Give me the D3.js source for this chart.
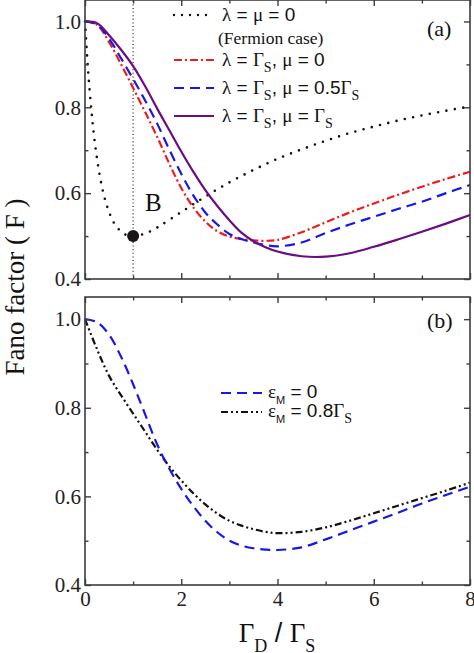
<!DOCTYPE html>
<html>
<head>
<meta charset="utf-8">
<script src="https://d3js.org/d3.v7.min.js"></script>
<style>
  body { margin: 0; background: #fff; }
  .tick text { font-family: "Liberation Serif", serif; font-size: 21px; fill: #222; }
  .tick line { stroke: #3d3d3d; stroke-width: 1.4; }
</style>
</head>
<body>
<svg width="474" height="653"></svg>
<script>
// panel (a): Fano factor vs GammaD/GammaS
const xA = [0, 0.25, 0.5, 0.75, 1, 1.25, 1.5, 1.75, 2, 2.25, 2.5, 2.75, 3, 3.25, 3.5, 3.75, 4, 4.5, 5, 5.5, 6, 6.5, 7, 7.5, 8];
const redA    = [1.0, 0.992, 0.952, 0.900, 0.845, 0.789, 0.731, 0.669, 0.612, 0.567, 0.534, 0.511, 0.499, 0.493, 0.490, 0.489, 0.491, 0.509, 0.532, 0.555, 0.576, 0.596, 0.615, 0.633, 0.650];
const blueA   = [1.0, 0.993, 0.960, 0.914, 0.866, 0.816, 0.762, 0.702, 0.645, 0.595, 0.555, 0.527, 0.505, 0.493, 0.485, 0.479, 0.476, 0.485, 0.507, 0.527, 0.545, 0.563, 0.580, 0.600, 0.619];
const purpleA = [1.0, 0.996, 0.968, 0.934, 0.896, 0.849, 0.797, 0.747, 0.697, 0.650, 0.607, 0.570, 0.537, 0.508, 0.488, 0.474, 0.464, 0.453, 0.452, 0.460, 0.475, 0.492, 0.510, 0.529, 0.549];

const xFermion = [0, 0.05, 0.1, 0.15, 0.2, 0.3, 0.4, 0.5, 0.6, 0.7, 0.8, 0.9, 1, 1.25, 1.5, 2, 2.5, 3, 3.5, 4, 4.5, 5, 5.5, 6, 6.5, 7, 7.5, 8];
const fermion  = [1.0, 0.909, 0.835, 0.773, 0.722, 0.645, 0.592, 0.556, 0.531, 0.516, 0.506, 0.501, 0.5, 0.506, 0.52, 0.556, 0.592, 0.625, 0.654, 0.68, 0.702, 0.722, 0.740, 0.755, 0.769, 0.781, 0.792, 0.802];

// panel (b)
const xB = [0, 0.25, 0.5, 0.75, 1, 1.25, 1.5, 1.75, 2, 2.25, 2.5, 2.75, 3, 3.25, 3.5, 3.75, 4, 4.5, 5, 5.5, 6, 6.5, 7, 7.5, 8];
const blueB  = [1.0, 0.993, 0.965, 0.915, 0.853, 0.785, 0.717, 0.663, 0.617, 0.578, 0.545, 0.519, 0.500, 0.489, 0.483, 0.480, 0.479, 0.485, 0.503, 0.523, 0.543, 0.563, 0.584, 0.603, 0.622];
const blackB = [1.0, 0.932, 0.872, 0.828, 0.787, 0.746, 0.705, 0.668, 0.636, 0.607, 0.582, 0.561, 0.545, 0.534, 0.526, 0.520, 0.517, 0.520, 0.530, 0.545, 0.562, 0.579, 0.596, 0.613, 0.631];

const pointB = [1, 0.5];
const xTicks = [0, 2, 4, 6, 8], xMinor = [1, 3, 5, 7];
const yTicks = [0.4, 0.6, 0.8, 1.0], yMinor = [0.5, 0.7, 0.9];

var svg = d3.select("svg");
var x = d3.scaleLinear().domain([0, 8]).range([85, 470]);
var ya = d3.scaleLinear().domain([0.4, 1.05]).range([279, 0]);
var yb = d3.scaleLinear().domain([0.4, 1.05]).range([585, 297]);

var SERIF = "'Liberation Serif', serif", SANS = "'Liberation Sans', sans-serif";

function axes(y, xLabels) {
  var g = svg.append("g");
  var top = y.range()[1], bot = y.range()[0];
  var fmt = d3.format(".1f");
  // left
  g.append("g").attr("transform", "translate(" + x(0) + ",0)")
    .call(d3.axisLeft(y).tickValues(yTicks).tickSize(-6).tickPadding(4).tickFormat(fmt));
  g.append("g").attr("transform", "translate(" + x(0) + ",0)")
    .call(d3.axisLeft(y).tickValues(yMinor).tickSize(-3.5).tickFormat(""));
  // right
  g.append("g").attr("transform", "translate(" + x(8) + ",0)")
    .call(d3.axisRight(y).tickValues(yTicks).tickSize(-6).tickFormat(""));
  g.append("g").attr("transform", "translate(" + x(8) + ",0)")
    .call(d3.axisRight(y).tickValues(yMinor).tickSize(-3.5).tickFormat(""));
  // bottom
  g.append("g").attr("transform", "translate(0," + bot + ")")
    .call(d3.axisBottom(x).tickValues(xTicks).tickSize(-6).tickPadding(6).tickFormat(xLabels ? d3.format("d") : ""));
  g.append("g").attr("transform", "translate(0," + bot + ")")
    .call(d3.axisBottom(x).tickValues(xMinor).tickSize(-3.5).tickFormat(""));
  // top
  g.append("g").attr("transform", "translate(0," + top + ")")
    .call(d3.axisTop(x).tickValues(xTicks).tickSize(-6).tickFormat(""));
  g.append("g").attr("transform", "translate(0," + top + ")")
    .call(d3.axisTop(x).tickValues(xMinor).tickSize(-3.5).tickFormat(""));
  g.selectAll(".domain").remove();
  g.append("rect")
    .attr("x", x(0)).attr("y", top)
    .attr("width", x(8) - x(0)).attr("height", bot - top)
    .attr("fill", "none").attr("stroke", "#3d3d3d").attr("stroke-width", 1.6);
}

function curve(xs, ys, y, color, dash, w) {
  var line = d3.line()
    .x(function (d) { return x(d[0]); })
    .y(function (d) { return y(d[1]); })
    .curve(d3.curveCatmullRom.alpha(0.5));
  return svg.append("path")
    .datum(xs.map(function (v, i) { return [v, ys[i]]; }))
    .attr("d", line)
    .attr("fill", "none")
    .attr("stroke", color)
    .attr("stroke-width", w || 2.2)
    .attr("stroke-dasharray", dash);
}

// text with mixed fonts: [text, kind]  kind: s sans, r serif, sub serif subscript, msub sans subscript
function label(xp, yp, parts, size) {
  var t = svg.append("text").attr("x", xp).attr("y", yp).attr("fill", "#111")
    .attr("font-size", size || 19);
  var shift = 0;
  parts.forEach(function (p) {
    var ts = t.append("tspan").text(p[0]);
    var isSub = p[1] == "sub" || p[1] == "msub";
    var want = isSub ? 6 : 0;
    if (want != shift) ts.attr("dy", want - shift);
    shift = want;
    ts.attr("font-family", (p[1] == "s" || p[1] == "msub") ? SANS : SERIF);
    if (isSub) ts.attr("font-size", p[1] == "msub" ? 11 : 14);
  });
  return t;
}

// ---- panel (a)
curve([pointB[0], pointB[0]], [0.4, 1.05], ya, "#222", "1,2.6", 1.2);
curve(xFermion, fermion, ya, "#111", "0,8.5", 2.6).attr("stroke-linecap", "round");
curve(xA, redA, ya, "#f01c1c", "8,3,2,3");
curve(xA, blueA, ya, "#1818e6", "10,6");
curve(xA, purpleA, ya, "#6a0d83", null, 2.2);
svg.append("circle").attr("cx", x(pointB[0])).attr("cy", ya(pointB[1])).attr("r", 6).attr("fill", "#1a1414");
svg.append("text").attr("x", 145).attr("y", 211).attr("font-family", SERIF)
  .attr("font-size", 25).attr("fill", "#111").text("B");
axes(ya, false);

// legend (a)
var legA = [
  { y: 15, color: "#111", dash: "0,8", w: 2.4, cap: "round" },
  { y: 60, color: "#f01c1c", dash: "8,3,2,3", w: 2.2 },
  { y: 88, color: "#1818e6", dash: "10,6", w: 2.2 },
  { y: 116, color: "#6a0d83", dash: null, w: 2.2 }
];
legA.forEach(function (d) {
  svg.append("line").attr("x1", 174).attr("x2", 214).attr("y1", d.y).attr("y2", d.y)
    .attr("stroke", d.color).attr("stroke-width", d.w).attr("stroke-dasharray", d.dash)
    .attr("stroke-linecap", d.cap || "butt");
});
label(222, 21, [["λ", "r"], [" = ", "s"], ["μ", "r"], [" = 0", "s"]]);
label(218, 44, [["(Fermion case)", "r"]], 17.5);
label(222, 66, [["λ", "r"], [" = ", "s"], ["Γ", "r"], ["S", "sub"], [", ", "s"], ["μ", "r"], [" = 0", "s"]]);
label(222, 94, [["λ", "r"], [" = ", "s"], ["Γ", "r"], ["S", "sub"], [", ", "s"], ["μ", "r"], [" = 0.5", "s"], ["Γ", "r"], ["S", "sub"]]);
label(222, 122, [["λ", "r"], [" = ", "s"], ["Γ", "r"], ["S", "sub"], [", ", "s"], ["μ", "r"], [" = ", "s"], ["Γ", "r"], ["S", "sub"]]);
svg.append("text").attr("x", 427).attr("y", 36).attr("font-family", SERIF)
  .attr("font-size", 22).attr("fill", "#111").text("(a)");

// ---- panel (b)
curve(xB, blackB, yb, "#111", "7,3,2,3,2,3");
curve(xB, blueB, yb, "#1818e6", "10,6");
axes(yb, true);

svg.append("line").attr("x1", 221).attr("x2", 262).attr("y1", 393).attr("y2", 393)
  .attr("stroke", "#1818e6").attr("stroke-width", 2.2).attr("stroke-dasharray", "10,6");
svg.append("line").attr("x1", 221).attr("x2", 262).attr("y1", 412).attr("y2", 412)
  .attr("stroke", "#111").attr("stroke-width", 2.2).attr("stroke-dasharray", "7,3,2,3,2,3");
label(268, 398, [["ε", "r"], ["M", "msub"], [" = 0", "s"]]);
label(268, 417, [["ε", "r"], ["M", "msub"], [" = 0.8", "s"], ["Γ", "r"], ["S", "sub"]]);
svg.append("text").attr("x", 427).attr("y", 328).attr("font-family", SERIF)
  .attr("font-size", 22).attr("fill", "#111").text("(b)");

// axis titles
svg.append("text")
  .attr("transform", "translate(24,287) rotate(-90)")
  .attr("text-anchor", "middle")
  .attr("font-family", SERIF)
  .attr("font-size", 27).attr("fill", "#111")
  .text("Fano factor ( F )");

var xt = svg.append("text").attr("x", 277).attr("y", 642).attr("text-anchor", "middle")
  .attr("font-family", SERIF).attr("font-size", 27).attr("fill", "#111");
xt.append("tspan").text("Γ");
xt.append("tspan").attr("dy", 10).attr("font-size", 18).text("D");
xt.append("tspan").attr("dy", -10).attr("font-family", SANS).text(" / ");
xt.append("tspan").text("Γ");
xt.append("tspan").attr("dy", 10).attr("font-size", 18).text("S");
</script>
</body>
</html>
